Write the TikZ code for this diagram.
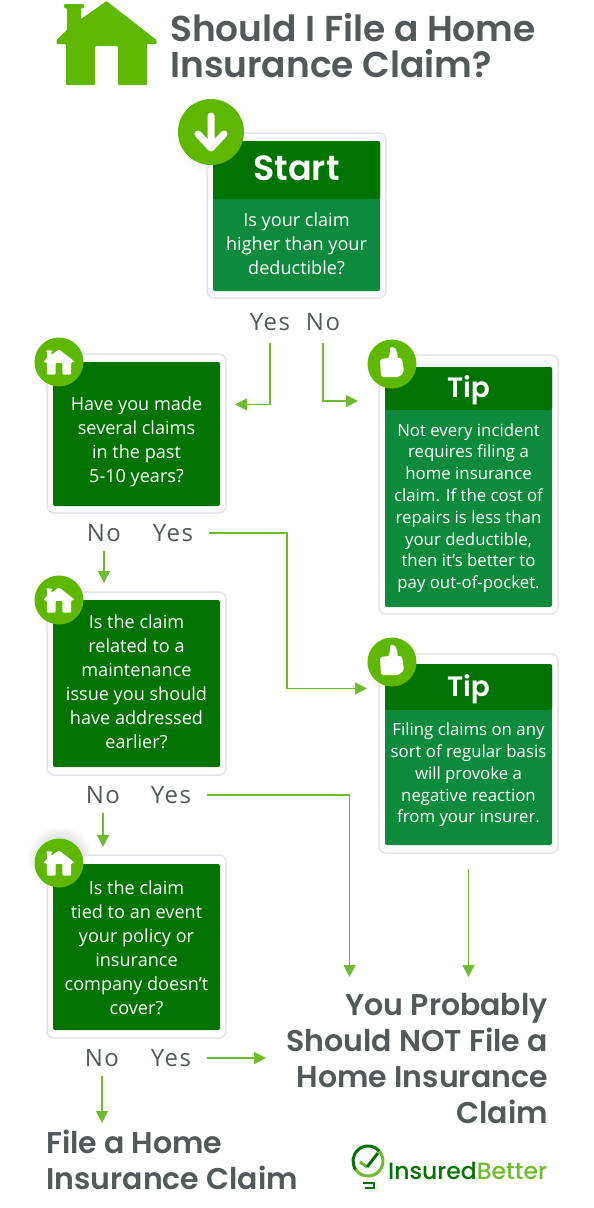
\documentclass[tikz,border=0pt]{standalone}
\usepackage{fontspec}
\setmainfont{Open Sans}
\newfontfamily\headfont{Poppins SemiBold}
\newfontfamily\logofont{Poppins Medium}
\newfontfamily\answerfont[LetterSpace=6]{Open Sans}
\usetikzlibrary{arrows.meta}
\definecolor{leaf}{RGB}{95,184,0}
\definecolor{darkpanel}{RGB}{0,115,0}
\definecolor{midpanel}{RGB}{14,138,60}
\definecolor{slate}{RGB}{83,89,90}
\definecolor{flowline}{RGB}{109,187,46}
\definecolor{cardedge}{RGB}{226,228,238}
\tikzset{
  card/.style={draw=cardedge,line width=1.5pt,fill=white,rounded corners=7pt,minimum width=179pt,outer sep=0pt},
  panel/.style={rounded corners=2pt,minimum width=167pt,outer sep=0pt,inner sep=0pt},
  bodytext/.style={text=white,align=center,inner sep=0pt,font=\fontsize{18.1}{24}\selectfont},
  tiptext/.style={text=white,align=center,inner sep=0pt,font=\fontsize{16.8}{21.8}\selectfont},
  headtext/.style={text=white,font=\headfont\fontsize{#1}{#1}\selectfont},
  answer/.style={text=slate,inner ysep=0pt,inner xsep=16pt,minimum height=36pt,outer sep=0pt,font=\answerfont\fontsize{24}{26}\selectfont},
  bigtext/.style={text=slate,inner sep=0pt,font=\headfont\fontsize{30}{36}\selectfont},
  flow/.style={draw=flowline,line width=1.3pt,-{Triangle[length=12pt,width=12pt]}},
  badge/.style={circle,fill=leaf,minimum size=#1,inner sep=0pt},
  pics/homeicon/.style={code={
    \fill[pic actions,rounded corners=1pt] (0,-42) -- (50,-3) -- (50,1) -- (40.5,1) -- (40.5,42) -- (11.5,42) -- (11.5,3)
      -- (-11.5,3) -- (-11.5,42) -- (-40.5,42) -- (-40.5,1) -- (-50,1) -- (-50,-3) -- (-39.5,-13) -- (-39.5,-35)
      -- (-42.5,-35) -- (-42.5,-39) -- (-22.5,-39) -- (-22.5,-35) -- (-25.5,-35) -- (-25.5,-24) -- cycle;
  }},
  pics/thumbicon/.style={code={
    \fill[white,rounded corners=2.5pt] (-12,-5) -- (-3,-6) -- (10,-6) -- (12,8) -- (7,13) -- (-11,13) -- cycle;
    \fill[white,rounded corners=2pt] (-5,-3) -- (-2,-10) -- (-2,-17) -- (3,-17) -- (6,-9) -- (5,-3) -- cycle;
  }}
}
\begin{document}
\begin{tikzpicture}[x=1pt,y=-1pt]
  \useasboundingbox (0,0) rectangle (594,1208);
  % halos behind the badges
  \foreach \x/\y/\r/\c in {213/136/40/gray!35,61/366/30/gray!30,394/368/30/gray!30,61/604/30/gray!30,394/666/30/gray!30,60/858/33/gray!60} {
    \shade[inner color=\c,outer color=white] (\x,\y) circle (\r);
  }
  % cards
  \foreach \n/\x/\y/\h in {start/296.5/215.5/165,qa/136.5/433.5/159,qb/136.5/683.5/183,qc/136.5/946.5/183,tipa/468.5/484.5/259,tipb/468.5/753.5/199} {
    \node[card,minimum height=\h pt] (\n) at (\x,\y) {};
  }
  \node[panel,fill=midpanel,minimum height=150pt] (startin) at (296.5,216) {};
  \node[panel,fill=darkpanel,minimum height=58pt] (starthead) at (296.5,170) {};
  \node[panel,fill=darkpanel,minimum height=144pt] (qain) at (136.5,434) {};
  \node[panel,fill=darkpanel,minimum height=167pt] (qbin) at (136.5,683.5) {};
  \node[panel,fill=darkpanel,minimum height=166pt] (qcin) at (136.5,947) {};
  \node[panel,fill=midpanel,minimum height=240pt] (tipain) at (468.5,487) {};
  \node[panel,fill=darkpanel,minimum height=43pt] (tipahead) at (468.5,388.5) {};
  \node[panel,fill=midpanel,minimum height=181pt] (tipbin) at (468.5,754.5) {};
  \node[panel,fill=darkpanel,minimum height=46pt] (tipbhead) at (468.5,687) {};
  % texts in the cards
  \node[headtext=35] (startlabel) at (296.5,168) {Start};
  \node[headtext=28] (tipalabel) at (468.5,390) {Tip};
  \node[headtext=28] (tipblabel) at (468.5,689) {Tip};
  \node[bodytext] (starttext) at (296.5,244) {Is your claim\\higher than your\\deductible?};
  \node[bodytext] (qatext) at (136.5,442) {Have you made\\several claims\\in the past\\5-10 years?};
  \node[bodytext] (qbtext) at (136.5,682) {Is the claim\\related to a\\maintenance\\issue you should\\have addressed\\earlier?};
  \node[bodytext] (qctext) at (136.5,948) {Is the claim\\tied to an event\\your policy or\\insurance\\company doesn’t\\cover?};
  \node[tiptext] (tipatext) at (468.5,508) {Not every incident\\requires filing a\\home insurance\\claim. If the cost of\\repairs is less than\\your deductible,\\then it’s better to\\pay out-of-pocket.};
  \node[tiptext] (tipbtext) at (468.5,775) {Filing claims on any\\sort of regular basis\\will provoke a\\negative reaction\\from your insurer.};
  % badges
  \node[badge=66pt] (startbadge) at (211,132) {};
  \draw[white,line width=7pt,line cap=round,line join=round] (211,116) -- (211,148) (198,134) -- (211,148) -- (224,134);
  \foreach \n/\x/\y in {qabadge/59/362,qbbadge/59/600,qcbadge/59/863} {
    \node[badge=49pt] (\n) at (\x,\y) {};
    \pic[fill=white,scale=.3] at (\x,\y) {homeicon};
  }
  \foreach \n/\x/\y in {tipabadge/392/364,tipbbadge/392/662} {
    \node[badge=49pt] (\n) at (\x,\y) {};
    \pic at (\x,\y) {thumbicon};
  }
  % headings
  \pic[fill=leaf] at (106.5,43) {homeicon};
  \node[bigtext,anchor=west,align=left,font=\headfont\fontsize{36}{36}\selectfont] (title) at (170,46) {Should I File a Home\\Insurance Claim?};
  \node[bigtext,anchor=north east,align=right] (stopclaim) at (548,993) {You Probably\\Should NOT File a\\Home Insurance\\Claim};
  \node[bigtext,anchor=north west,align=left] (fileclaim) at (46,1130) {File a Home\\Insurance Claim};
  % answers
  \node[answer] (yesz) at (270,322) {Yes};
  \node[answer] (noz) at (323,322) {No};
  \node[answer] (noa) at (104,533) {No};
  \node[answer] (yesa) at (173,533) {Yes};
  \node[answer] (nob) at (103,795) {No};
  \node[answer] (yesb) at (171,795) {Yes};
  \node[answer] (noc) at (102,1058) {No};
  \node[answer] (yesc) at (171,1058) {Yes};
  \coordinate (benda) at (287,600);
  % connectors
  \draw[flow,shorten <=3pt,shorten >=9pt] (yesz.south) |- (qa.18.8);
  \draw[flow,shorten <=3pt,shorten >=21pt] (noz.south) |- (tipa.137.7);
  \draw[flow,shorten >=9pt] (noa.south) -- (noa.south |- qb.north);
  \draw[flow,shorten >=12pt] (yesa.east) -| (benda) |- (tipb.144.6);
  \draw[flow,shorten >=8pt] (nob.south) -- (nob.south |- qc.north);
  \draw[flow,shorten >=16pt] (yesb.east) -| ([xshift=-67.5pt]stopclaim.north);
  \draw[flow,shorten <=16pt,shorten >=16pt] (tipb.south) -- (tipb.south |- stopclaim.north);
  \draw[flow,shorten >=20pt] (yesc.east) -- (yesc.east -| stopclaim.west);
  \draw[flow,shorten >=7pt] (noc.south) -- (noc.south |- fileclaim.north);
  % logo
  \draw[darkpanel,line width=3pt] (368,1161) ++(-40:15) arc[start angle=-40,end angle=-215,radius=15];
  \draw[flowline,line width=3pt] (368,1161) ++(-215:15) arc[start angle=-215,end angle=-400,radius=15];
  \draw[flowline,line width=3pt] (360,1162) -- (367,1167);
  \draw[darkpanel,line width=3pt] (367,1167) -- (378,1153);
  \draw[darkpanel,line width=2pt] (363,1183) -- (374,1183) -- (374,1188) -- (365,1188);
  \node[anchor=base west,inner sep=0pt,text=darkpanel,font=\logofont\fontsize{23.5}{24}\selectfont] (logotext) at (388,1179) {Insured\textcolor{flowline}{Better}};
\end{tikzpicture}
\end{document}
